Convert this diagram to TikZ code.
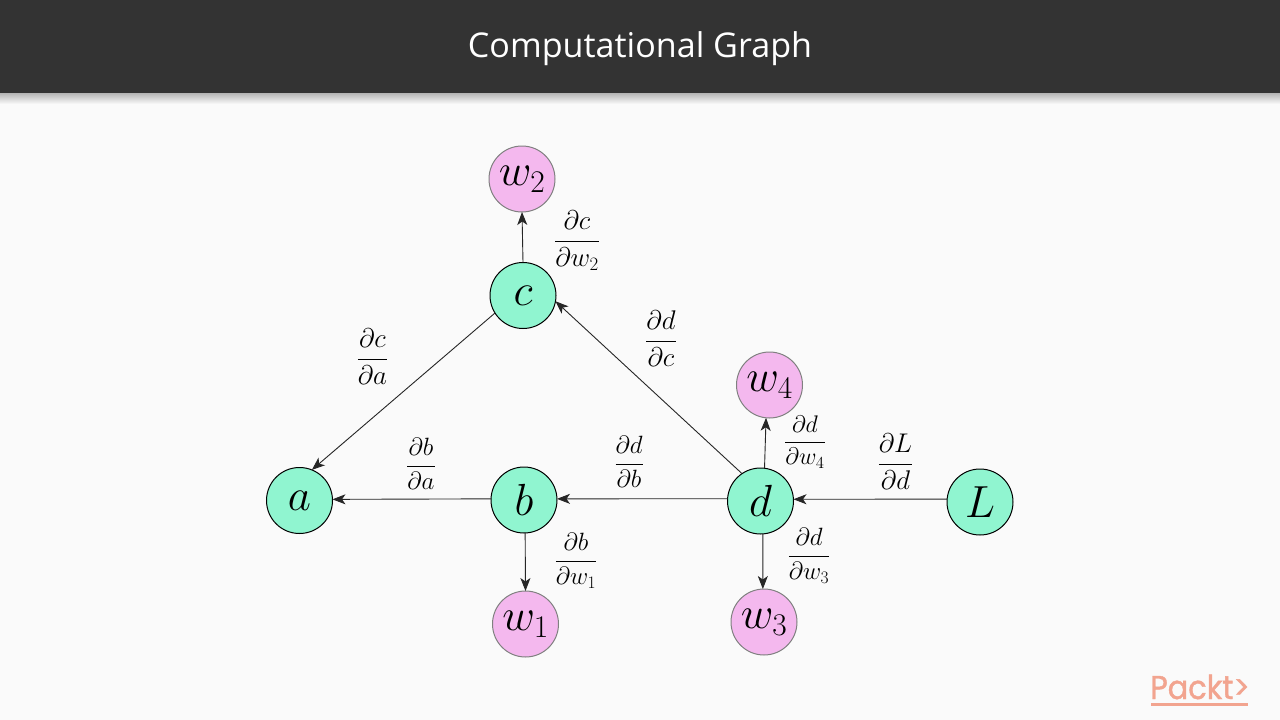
\RequirePackage{fix-cm}
\documentclass[tikz,border=0pt]{standalone}
\usepackage{fontspec}
\usetikzlibrary{arrows.meta}
\newfontfamily\titlefont{Open Sans}
\newfontfamily\logofont[FakeBold=1.2]{Poppins}
\definecolor{headbar}{HTML}{333333}
\definecolor{pagebg}{HTML}{FAFAFA}
\definecolor{shadowc}{HTML}{B4B4B4}
\definecolor{greenfill}{HTML}{90F5D0}
\definecolor{pinkfill}{HTML}{F4B8EE}
\definecolor{logoc}{HTML}{F2A48F}
\newcommand{\nodemath}[1]{\raisebox{-2.5pt}{$#1$}}
\tikzset{
  x=1pt,y=-1pt,
  greennode/.style={circle,draw=black,line width=1pt,fill=greenfill,minimum size=66pt,inner sep=0pt,outer sep=0pt,font=\fontsize{45}{45}\selectfont},
  pinknode/.style={circle,draw=black!50,line width=1pt,fill=pinkfill,minimum size=66pt,inner sep=0pt,outer sep=0pt,font=\fontsize{45}{45}\selectfont},
  conn/.style={-{Stealth[length=13pt,width=10pt,inset=3.5pt]},line width=0.9pt,draw=black!85},
  fraclabel/.style={inner sep=0pt,font=\fontsize{#1}{#1}\selectfont},
}
\begin{document}
\begin{tikzpicture}
\useasboundingbox (0,0) rectangle (1280,720);
\fill[pagebg] (0,0) rectangle (1280,720);
\shade[top color=shadowc,bottom color=pagebg] (0,93) rectangle (1280,104);
\fill[headbar] (0,0) rectangle (1280,93);
\node[text=white,font=\titlefont\fontsize{34.1}{34.1}\selectfont] (title) at (640,49) {Computational Graph};
% nodes
\node[greennode] (a) at (299.5,500.5) {\nodemath{a}};
\node[greennode] (b) at (524,500) {\nodemath{b}};
\node[greennode] (c) at (523,295.5) {\nodemath{c}};
\node[greennode] (d) at (760.5,501) {\nodemath{d}};
\node[greennode] (L) at (980,502) {\nodemath{L}};
\node[pinknode] (w1) at (525.5,624) {\nodemath{w_1}};
\node[pinknode] (w2) at (522,179) {\nodemath{w_2}};
\node[pinknode] (w3) at (764,622) {\nodemath{w_3}};
\node[pinknode] (w4) at (769.5,385) {\nodemath{w_4}};
% connectors
\draw[conn] (c.212) -- (a.68);
\draw[conn] (b.178) -- (a.2.6);
\draw[conn] (d.176.5) -- (b.2);
\draw[conn] (L.175) -- (d.3.5);
\draw[conn] (d.124) -- (c.-10.5);
\draw[conn] (c.north) -- (w2.south);
\draw[conn] (b.272) -- (w1.north);
\draw[conn] (d.274) -- (w3.92.6);
\draw[conn] (d.83) -- (w4.-96);
% labels
\node[fraclabel=27] (l1) at (577,240.5) {$\displaystyle\frac{\partial c}{\partial w_2}$};
\node[fraclabel=27] (l2) at (372.5,357) {$\displaystyle\frac{\partial c}{\partial a}$};
\node[fraclabel=27] (l3) at (661,339) {$\displaystyle\frac{\partial d}{\partial c}$};
\node[fraclabel=25] (l4) at (421,464) {$\displaystyle\frac{\partial b}{\partial a}$};
\node[fraclabel=25] (l5) at (629,462) {$\displaystyle\frac{\partial d}{\partial b}$};
\node[fraclabel=24] (l6) at (805,442) {$\displaystyle\frac{\partial d}{\partial w_4}$};
\node[fraclabel=27] (l7) at (895.5,461.5) {$\displaystyle\frac{\partial L}{\partial d}$};
\node[fraclabel=25] (l8) at (576,561) {$\displaystyle\frac{\partial b}{\partial w_1}$};
\node[fraclabel=25] (l9) at (809,556) {$\displaystyle\frac{\partial d}{\partial w_3}$};
% logo
\node[text=logoc,inner sep=0pt,anchor=base west,font=\logofont\fontsize{33}{33}\selectfont] (logo) at (1150,699) {\scalebox{0.92}[1]{Packt>}};
\fill[logoc] (1151,703) rectangle (1248,706);
\end{tikzpicture}
\end{document}
